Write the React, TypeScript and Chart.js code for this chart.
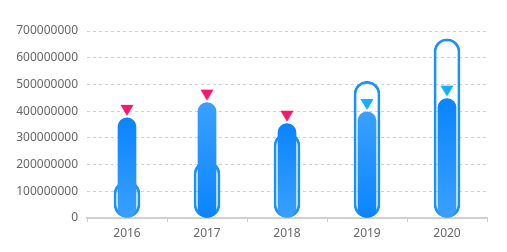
import React, { useEffect, useRef } from "react";
import { Chart, registerables } from "chart.js";

Chart.register(...registerables);

const categories = ["2016", "2017", "2018", "2019", "2020"];
const actualValues = [375000000, 432000000, 353000000, 397000000, 447000000];
const targetValues = [138000000, 212000000, 318000000, 512000000, 671000000];
const yTickMax = 700000000;
const yTickStep = 100000000;

function makeTriangle(color: string): HTMLCanvasElement {
  const c = document.createElement("canvas");
  c.width = 14;
  c.height = 30;
  const g = c.getContext("2d")!;
  g.fillStyle = color;
  g.beginPath();
  g.moveTo(0.5, 2);
  g.lineTo(13.5, 2);
  g.lineTo(7, 13);
  g.closePath();
  g.fill();
  return c;
}

export default function App() {
  const ref = useRef<HTMLCanvasElement>(null);
  useEffect(() => {
    const pink = makeTriangle("#f7186c");
    const cyan = makeTriangle("#13b0ff");
    const dark = "#0a84ff";
    const light = "#3aa0ff";
    const chart = new Chart(ref.current!, {
      data: {
        labels: categories,
        datasets: [
          {
            type: "line",
            data: actualValues,
            showLine: false,
            pointStyle: (c: any) =>
              actualValues[c.dataIndex] >= targetValues[c.dataIndex] ? pink : cyan,
            pointRadius: 7,
          } as any,
          {
            type: "bar",
            data: actualValues,
            grouped: false,
            barThickness: 18,
            borderRadius: 9,
            borderSkipped: false,
            backgroundColor: (c: any) => {
              const chart = c.chart;
              const ys = chart.scales && chart.scales.y;
              if (!ys || !chart.chartArea) return dark;
              const i = c.dataIndex;
              const top = ys.getPixelForValue(actualValues[i]);
              const bottom = ys.getPixelForValue(0);
              const g = chart.ctx.createLinearGradient(0, top, 0, bottom);
              const a = i % 2 === 0 ? dark : light;
              const b = i % 2 === 0 ? light : dark;
              g.addColorStop(0, a);
              g.addColorStop(1, b);
              return g;
            },
          } as any,
          {
            type: "bar",
            data: targetValues,
            grouped: false,
            barThickness: 26,
            borderRadius: 13,
            borderSkipped: false,
            borderWidth: 2,
            borderColor: "#1890ff",
            backgroundColor: "rgba(0,0,0,0)",
          } as any,
        ],
      },
      options: {
        animation: false,
        responsive: true,
        maintainAspectRatio: false,
        layout: { padding: { left: 0, right: 20, top: 31, bottom: 0 } },
        plugins: { legend: { display: false }, tooltip: { enabled: false } },
        scales: {
          x: {
            offset: true,
            grid: {
              display: true,
              drawOnChartArea: false,
              offset: true,
              tickLength: 4,
              color: "#cccccc",
            },
            border: { display: true, color: "#d0d0d0", width: 2 },
            ticks: {
              color: "#666666",
              font: { family: "Noto Sans", size: 12 },
              padding: 4,
            },
            afterFit: (s: any) => {
              s.height = 34;
            },
          },
          y: {
            min: 0,
            max: yTickMax,
            grid: {
              color: "#d0d0d0",
              drawTicks: false,
            },
            border: { display: false, dash: [3, 3] },
            ticks: {
              stepSize: yTickStep,
              color: "#666666",
              font: { family: "Noto Sans", size: 12 },
              padding: 9,
              callback: (v: any) => String(v),
            },
            afterFit: (s: any) => {
              s.width = 87;
            },
          },
        },
      } as any,
    });
    return () => chart.destroy();
  }, []);
  return (
    <div style={{ position: "fixed", left: 0, top: 0, width: 507, height: 252, background: "#fff" }}>
      <canvas ref={ref} />
    </div>
  );
}
